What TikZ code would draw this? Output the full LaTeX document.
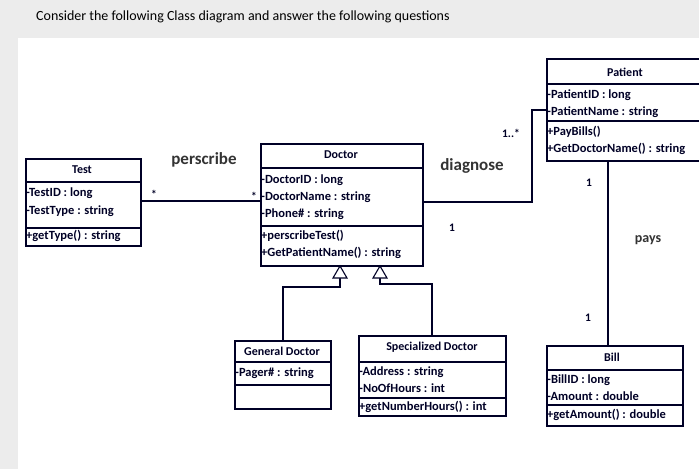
\documentclass[tikz,border=0pt]{standalone}
\usepackage{fontspec}
\setmainfont{Carlito}
\usetikzlibrary{positioning}
\begin{document}
\begin{tikzpicture}[x=1pt,y=-1pt,
  box/.style={draw=black!85!blue,line width=1.6pt,inner sep=0,anchor=north west},
  sep/.style={draw=black!85!blue,line width=1.4pt},
  t/.style={anchor=west,inner sep=1pt,font=\fontsize{12.5}{14}\selectfont\bfseries,text=black!85!blue},
  ti/.style={inner sep=0,font=\fontsize{12}{13}\selectfont\bfseries,text=black!85!blue},
  lab/.style={inner sep=0,font=\fontsize{17}{19}\selectfont\bfseries,text=black!80},
  ml/.style={inner sep=0,font=\fontsize{11.5}{13}\selectfont\bfseries,text=black!85!blue},
  ln/.style={draw=black!85!blue,line width=1.1pt}]
\useasboundingbox (0,0) rectangle (699,469);
\fill[gray!15] (0,0) rectangle (699,469);
\fill[white] (18,38) rectangle (699,469);
\node[anchor=west,inner sep=0,font=\fontsize{14}{16}\selectfont] (hd) at (36,17) {Consider the following Class diagram and answer the following questions};
% Test
\node[box,minimum width=115,minimum height=87] (test) at (25,158) {};
\draw[sep] (25,182)--(140,182); \draw[sep] (25,228)--(140,228);
\node[ti] (testt) at (82,170) {Test};
\node[t] (t1) at (25,193) {-TestID : long};
\node[t] (t2) at (25,211) {-TestType : string};
\node[t] (t3) at (25,236) {+getType() : string};
% Doctor
\node[box,minimum width=162,minimum height=122] (doc) at (260,143) {};
\draw[sep] (260,168)--(422,168); \draw[sep] (260,226)--(422,226);
\node[ti] (doct) at (341,155) {Doctor};
\node[t] (d1) at (260,180) {-DoctorID : long};
\node[t] (d2) at (260,197) {-DoctorName : string};
\node[t] (d3) at (260,214) {-Phone\# : string};
\node[t] (d4) at (260,236) {+perscribeTest()};
\node[t] (d5) at (260,253) {+GetPatientName() : string};
% Patient
\node[box,minimum width=160,minimum height=102] (pat) at (546,58) {};
\draw[sep] (546,84)--(699,84); \draw[sep] (546,121)--(699,121);
\node[ti] (patt) at (625,72) {Patient};
\node[t] (p1) at (546,95) {-PatientID : long};
\node[t] (p2) at (546,112) {-PatientName : string};
\node[t] (p3) at (546,132) {+PayBills()};
\node[t] (p4) at (546,149) {+GetDoctorName() : string};
% Bill
\node[box,minimum width=136,minimum height=80] (bill) at (546,345) {};
\draw[sep] (546,370)--(682,370); \draw[sep] (546,405)--(682,405);
\node[ti] (billt) at (612,357) {Bill};
\node[t] (b1) at (546,380) {-BillID : long};
\node[t] (b2) at (546,396) {-Amount : double};
\node[t] (b3) at (546,415) {+getAmount() : double};
% General Doctor
\node[box,minimum width=96,minimum height=68] (gen) at (234,340) {};
\draw[sep] (234,362)--(330,362); \draw[sep] (234,385)--(330,385);
\node[ti] (gent) at (282,351) {General Doctor};
\node[t] (g1) at (234,373) {-Pager\# : string};
% Specialized Doctor
\node[box,minimum width=147,minimum height=80] (spec) at (358,335) {};
\draw[sep] (358,362)--(505,362); \draw[sep] (358,398)--(505,398);
\node[ti] (spect) at (432,347) {Specialized Doctor};
\node[t] (s1) at (358,372) {-Address : string};
\node[t] (s2) at (358,388) {-NoOfHours : int};
\node[t] (s3) at (358,407) {+getNumberHours() : int};
% connectors
\coordinate (c1) at (140,201); \coordinate (c2) at (260,201);
\draw[ln] (c1)--(c2);
\coordinate (c3) at (422,202); \coordinate (c4) at (532,202); \coordinate (c5) at (532,110); \coordinate (c6) at (546,110);
\draw[ln] (c3)--(c4)--(c5)--(c6);
\coordinate (c7) at (608,160); \coordinate (c8) at (608,345);
\draw[ln] (c7)--(c8);
% inheritance
\coordinate (ga) at (340,278); \coordinate (sa) at (380,278);
\draw[ln] (gen.north -| 283,0) -- (283,287) -- (340,287) -- (ga);
\draw[ln] (spec.north -| 432,0) -- (432,284) -- (380,284) -- (sa);
\draw[ln,fill=white] (340,266)--(333,278)--(347,278)--cycle;
\draw[ln,fill=white] (380,266)--(373,278)--(387,278)--cycle;
% labels
\node[lab] (l1) at (204,160) {perscribe};
\node[lab] (l2) at (472,166) {diagnose};
\node[lab,font=\fontsize{14}{16}\selectfont\bfseries] (l3) at (648,240) {pays};
\node[ml] (m1) at (154,194) {*};
\node[ml] (m2) at (254,196) {*};
\node[ml] (m3) at (511,133) {1..*};
\node[ml] (m4) at (452,228) {1};
\node[ml] (m5) at (589,183) {1};
\node[ml] (m6) at (588,318) {1};
\end{tikzpicture}
\end{document}
